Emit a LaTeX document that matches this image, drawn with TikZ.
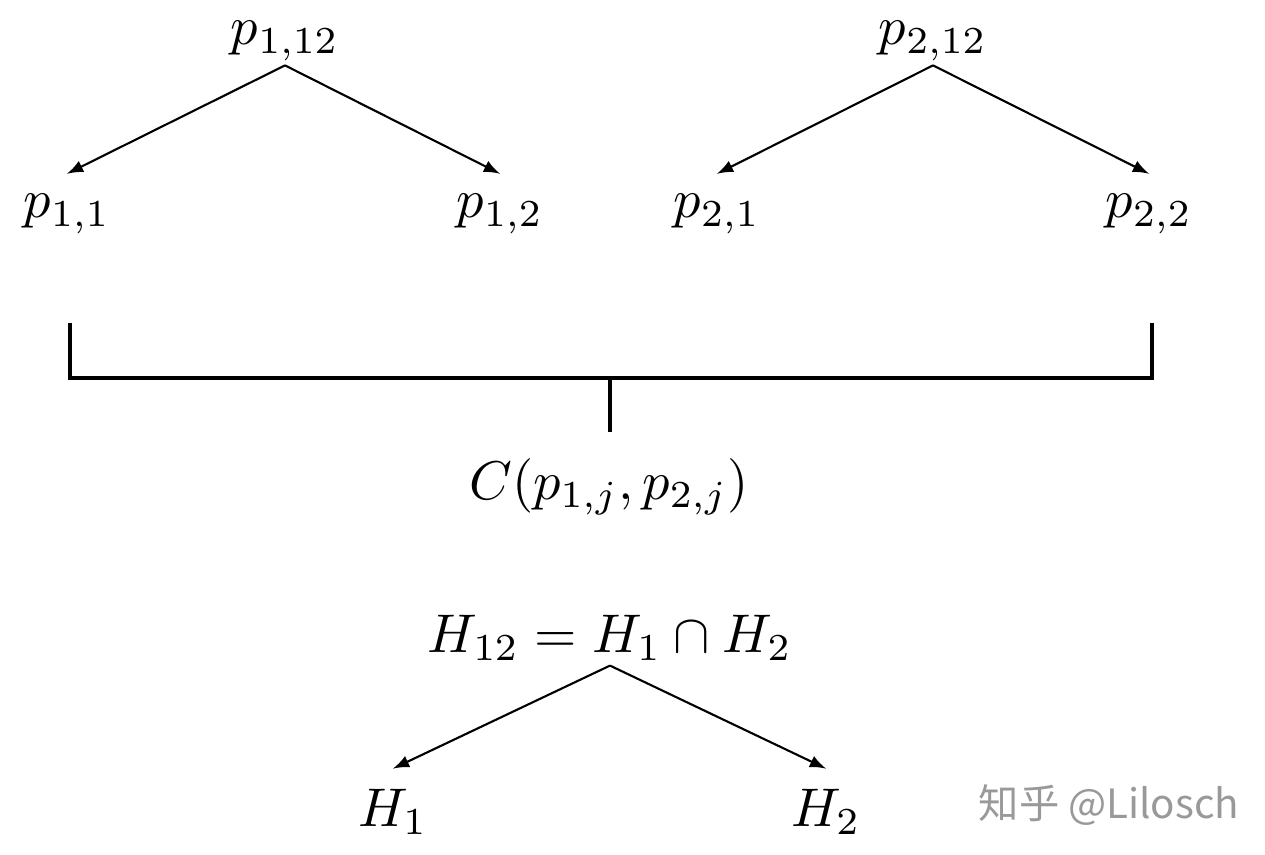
\documentclass[tikz,border=0pt]{standalone}
\usepackage[no-math]{fontspec}
\newfontfamily\cjk{Noto Sans CJK SC}
\begin{document}
\begin{tikzpicture}[
    every node/.style={scale=1.55},
    rootlbl/.style={inner ysep=0.7pt},
    leaflbl/.style={inner ysep=3.6pt},
    arr/.style={line width=0.6pt, -latex},
    bracket/.style={line width=1pt}
  ]
  \useasboundingbox (0,0) rectangle (12.65,8.55);
  % first tree
  \node[rootlbl] (p112) at (2.85,8.14) {$p_{1,12}$};
  \node[leaflbl] (p11) at (0.67,6.41) {$p_{1,1}$};
  \node[leaflbl] (p12) at (5.00,6.41) {$p_{1,2}$};
  \draw[arr] (p112.south) -- (p11.north);
  \draw[arr] (p112.south) -- (p12.north);
  % second tree
  \node[rootlbl] (p212) at (9.33,8.14) {$p_{2,12}$};
  \node[leaflbl] (p21) at (7.17,6.41) {$p_{2,1}$};
  \node[leaflbl] (p22) at (11.49,6.41) {$p_{2,2}$};
  \draw[arr] (p212.south) -- (p21.north);
  \draw[arr] (p212.south) -- (p22.north);
  % bracket
  \draw[bracket] (0.70,5.32) -- (0.70,4.77) -- (11.52,4.77) -- (11.52,5.32);
  \draw[bracket] (6.10,4.77) -- (6.10,4.23);
  \node (cop) at (6.09,3.68) {$C(p_{1,j},p_{2,j})$};
  % third tree
  \node[rootlbl] (h12) at (6.10,2.17) {$H_{12}=H_1\cap H_2$};
  \node[leaflbl] (h1) at (3.93,0.43) {$H_1$};
  \node[leaflbl] (h2) at (8.26,0.43) {$H_2$};
  \draw[arr] (h12.south) -- (h1.north);
  \draw[arr] (h12.south) -- (h2.north);
  \node[text=black!40, scale=0.74, font=\cjk] (mark) at (11.09,0.50) {知乎 @Lilosch};
\end{tikzpicture}
\end{document}
